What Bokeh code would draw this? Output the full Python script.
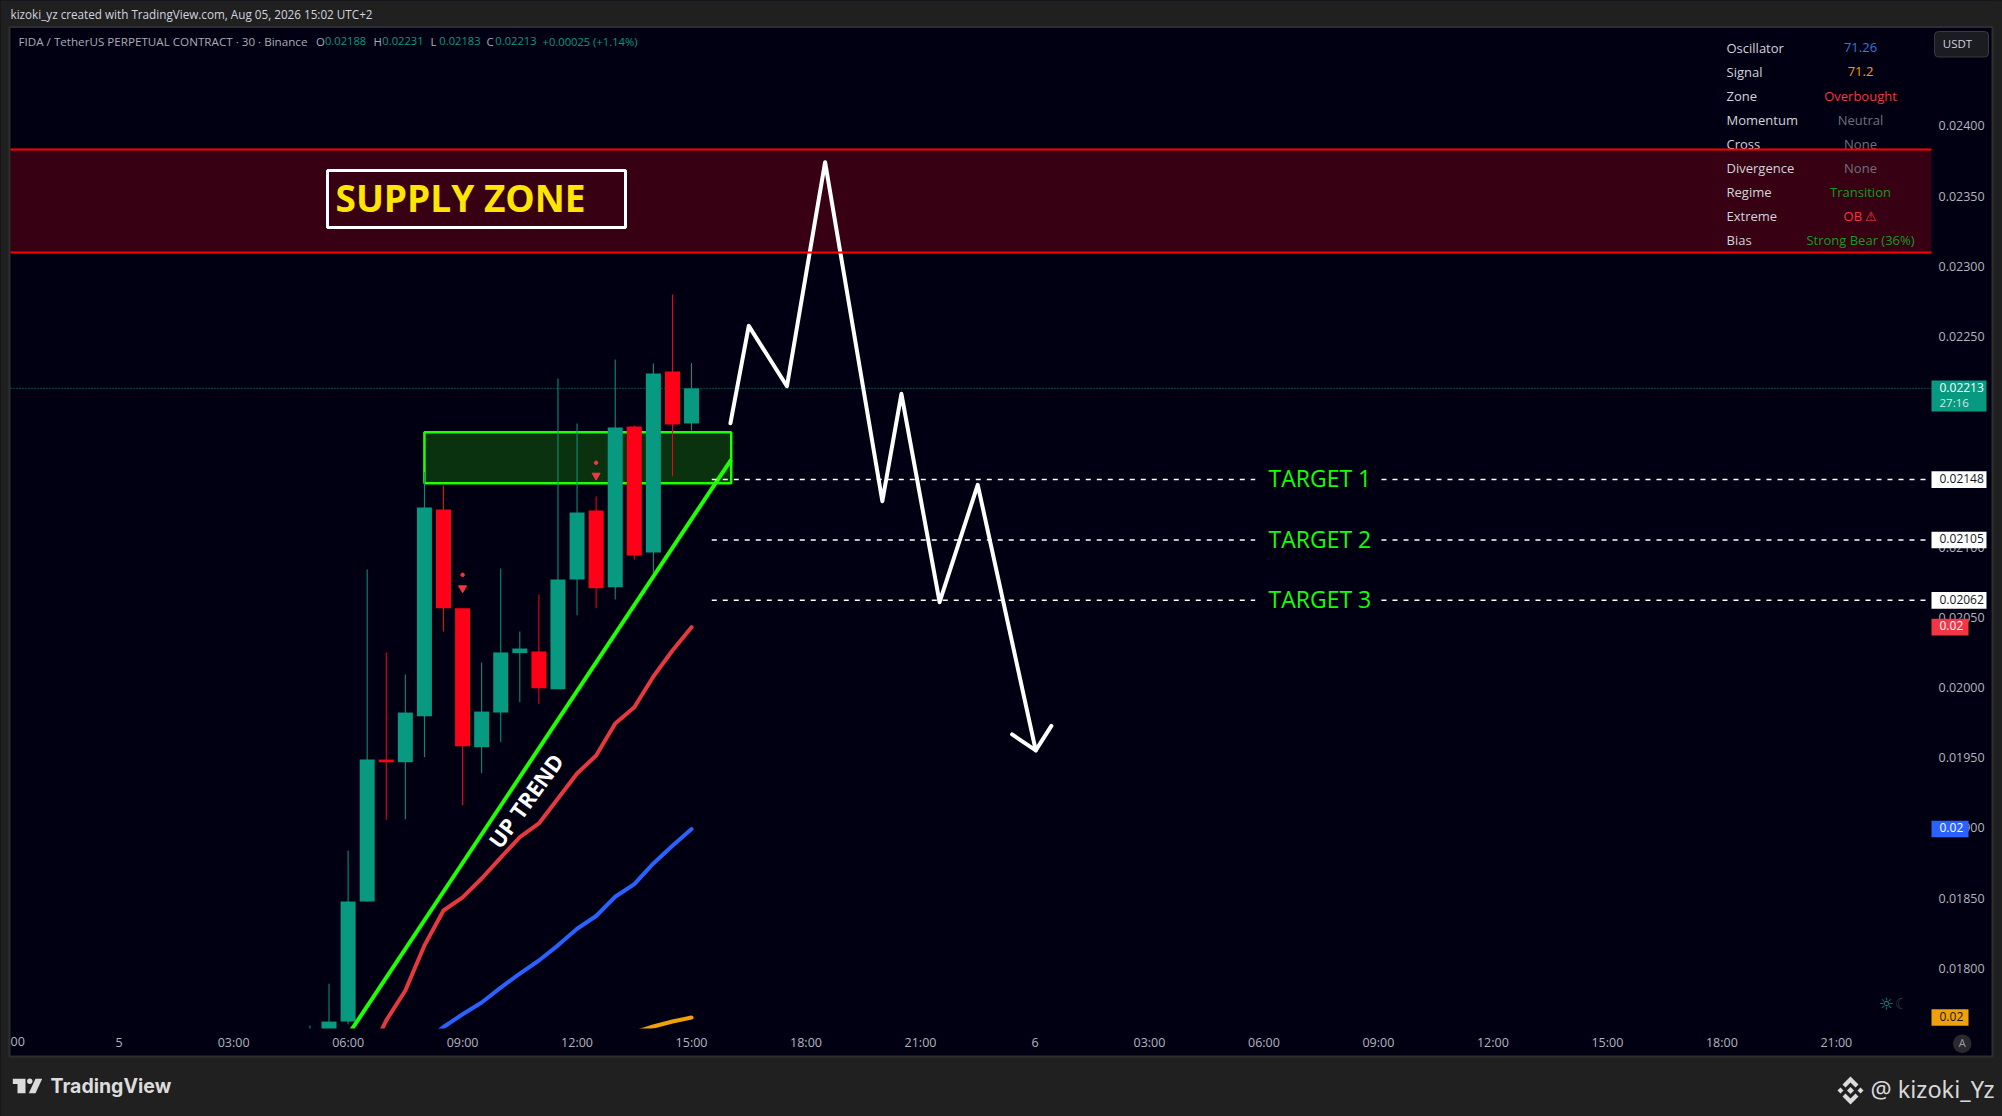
from bokeh.plotting import figure
from bokeh.embed import file_html
from bokeh.resources import INLINE
from bokeh.models import (BoxAnnotation, ColumnDataSource, FixedTicker, Label,
                          NumeralTickFormatter, PolyAnnotation)

# ---------- data ----------
hours = [5, 5.5, 6, 6.5, 7, 7.5, 8, 8.5, 9, 9.5, 10, 10.5, 11, 11.5, 12, 12.5, 13, 13.5, 14, 14.5, 15]
opens = [.01750, .01750, .01762, .018475, .019486, .019467, .019795, .021267, .020564, .019574, .019821,
         .020244, .020256, .019987, .020769, .02126, .020714, .021858, .020961, .02225, .02188]
highs = [.017592, .01789, .018838, .02084, .020249, .020092, .021533, .021438, .020564, .020177, .020847,
         .020398, .020662, .0222, .02188, .02136, .022335, .021865, .022307, .022798, .02231]
lows = [.01740, .01740, .01760, .018475, .019057, .019061, .019503, .020398, .019161, .019389, .01961,
        .019895, .01988, .019987, .020514, .020564, .020626, .020911, .020818, .021504, .02183]
closes = [.01755, .01762, .018475, .019486, .019467, .019821, .021281, .020564, .019581, .019828, .020249,
          .020277, .019994, .020769, .021246, .020707, .021851, .02094, .022236, .021873, .02213]

ma_hours_red = [6.5, 7, 7.5, 8, 8.5, 9, 9.5, 10, 10.5, 11, 11.5, 12, 12.5, 13, 13.5, 14, 14.5, 15]
ma_red = [.017343, .017628, .017841, .018162, .018411, .018504, .018639, .018788, .018933, .019031,
          .019209, .019387, .019515, .019743, .019859, .020078, .020263, .020429]
ma_hours_blue = [8, 8.5, 9, 9.5, 10, 10.5, 11, 11.5, 12, 12.5, 13, 13.5, 14, 14.5, 15]
ma_blue = [.017481, .017581, .017672, .017756, .017862, .017962, .018055, .018163, .018281, .018372,
           .018509, .018599, .018746, .018872, .018991]
ma_hours_orange = [13.5, 14, 14.5, 15]
ma_orange = [.017542, .017585, .01762, .017649]

signal_hours = [9, 12.5]
signal_dots = [.020802, .0216]
signal_tris = [.020707, .021509]

trend_h = [6.0, 16.04]
trend_p = [.017525, .021623]
box_h = [8.0, 16.04]
box_p = [.021454, .021818]
zone_p = [.023098, .023831]

path_h = [16.02, 16.5, 17.5, 18.5, 20, 20.5, 21.5, 22.5, 24.02]
path_p = [.021882, .022575, .022145, .023741, .021326, .022091, .020607, .021443, .019551]
arrow_h = [23.4, 24.02, 24.43]
arrow_p = [.019665, .019551, .019726]

current_price = .02213
target_names = ["TARGET 1", "TARGET 2", "TARGET 3"]
target_prices = [.02148, .02105, .02062]
target_tags = ["0.02148", "0.02105", "0.02062"]

price_ticks = [.018, .0185, .019, .0195, .020, .0205, .021, .0215, .022, .0225, .023, .0235, .024]
time_ticks = list(range(0, 48, 3))
time_labels = ["5", "03:00", "06:00", "09:00", "12:00", "15:00", "18:00", "21:00",
               "6", "03:00", "06:00", "09:00", "12:00", "15:00", "18:00", "21:00"]

header_text = "kizoki_yz created with TradingView.com, Aug 05, 2026 15:02 UTC+2"
symbol_text = "FIDA / TetherUS PERPETUAL CONTRACT \u00b7 30 \u00b7 Binance"
ohlc_names = ["O", "H", "L", "C"]
ohlc_values = ["0.02188", "0.02231", "0.02183", "0.02213"]
change_text = "+0.00025 (+1.14%)"

table_names = ["Oscillator", "Signal", "Zone", "Momentum", "Cross", "Divergence", "Regime", "Extreme", "Bias"]
table_values = ["71.26", "71.2", "Overbought", "Neutral", "None", "None", "Transition", "OB \u26a0", "Strong Bear (36%)"]
table_colors = ["#2a7de1", "#ff9800", "#f23645", "#6f717a", "#6f717a", "#6f717a", "#169b26", "#f23645", "#169b26"]

# ---------- layout constants (reference page pixels) ----------
BG = "#010012"
CHROME = "#202020"
GREEN = "#089981"
CANDLE_RED = "#ff0019"
AXIS_TXT = "#b2b5be"
FONT = "Open Sans"
W, H = 2002, 1116
FL, FR, FT, FB = 10, 1931, 27, 1028      # price pane
OL, OR, OB = 9, 1992, 1056               # chart outline
PX_PER_PRICE = 140400.0
PX_PER_HOUR = 38.16
H0, P0 = 6.0, .024
X_AT_H0, Y_AT_P0 = 347.6, 125.3
TEXT_DY = -1.2


def hx(x):
    return H0 + (x - X_AT_H0) / PX_PER_HOUR


def py(y):
    return P0 - (y - Y_AT_P0) / PX_PER_PRICE


p = figure(width=W, height=H, x_range=(hx(0), hx(W)), y_range=(py(H), py(0)),
           output_backend="svg", toolbar_location=None, y_axis_location="right",
           min_border=0, background_fill_color=BG, border_fill_color=CHROME, outline_line_color=None)
p.grid.visible = False

for ax in (p.xaxis[0], p.yaxis[0]):
    ax.axis_line_color = None
    ax.major_tick_line_color = None
    ax.minor_tick_line_color = None
    ax.major_tick_out = 0
    ax.major_tick_in = 0
    ax.minor_tick_out = 0
    ax.minor_tick_in = 0
    ax.major_label_text_color = AXIS_TXT
    ax.major_label_text_font = FONT
    ax.major_label_text_font_size = "12.5px"
p.yaxis[0].ticker = FixedTicker(ticks=price_ticks)
p.yaxis[0].formatter = NumeralTickFormatter(format="0.00000")
p.yaxis[0].major_label_standoff = 7
p.yaxis[0].fixed_location = hx(FR)
p.xaxis[0].ticker = FixedTicker(ticks=time_ticks)
p.xaxis[0].major_label_overrides = {t: s for t, s in zip(time_ticks, time_labels)}
p.xaxis[0].major_label_standoff = 5
p.xaxis[0].fixed_location = py(FB)


def sy(y):
    return H - y


def box(x0, x1, y0, y1, fill=None, line=None, lw=1, radius=0, level="annotation"):
    p.add_layout(BoxAnnotation(left=x0, right=x1, top=sy(y0), bottom=sy(y1),
                               left_units="screen", right_units="screen", top_units="screen", bottom_units="screen",
                               fill_color=fill, fill_alpha=1 if fill else 0,
                               line_color=line, line_alpha=1 if line else 0, line_width=lw,
                               border_radius=radius, level=level))


def label(text, x, y, size, color, align="left", bold=False, font=FONT):
    p.add_layout(Label(text=text, x=x, y=sy(y + TEXT_DY), x_units="screen", y_units="screen",
                       text_font=font, text_font_size=f"{size}px", text_color=color,
                       text_align=align, text_baseline="middle",
                       text_font_style="bold" if bold else "normal"))


def tag(price, x1, fill, text, txt_color):
    half = 8.3 / PX_PER_PRICE
    p.add_layout(BoxAnnotation(left=FR, right=x1, top=price + half, bottom=price - half,
                               left_units="screen", right_units="screen",
                               fill_color=fill, fill_alpha=1, line_alpha=0))
    p.add_layout(Label(text=text, x=1939, y=price - TEXT_DY / PX_PER_PRICE, x_units="screen", y_units="data",
                       text_font=FONT, text_font_size="12px", text_color=txt_color,
                       text_baseline="middle"))


# zones
p.quad(left=hx(FL), right=hx(FR), bottom=zone_p[0], top=zone_p[1], fill_color="#380113", line_color=None)
p.quad(left=box_h[0], right=box_h[1], bottom=box_p[0], top=box_p[1],
       fill_color="#0a320e", line_color="#1fff00", line_width=2.5)

# current price line
p.line([hx(FL), hx(FR)], [current_price, current_price], line_color=GREEN, line_width=1, line_dash="1 2")

# candles
src = ColumnDataSource(dict(
    x=hours, o=opens, h=highs, l=lows, c=closes,
    top=[max(a, b) for a, b in zip(opens, closes)],
    bot=[min(a, b) for a, b in zip(opens, closes)],
    col=[GREEN if c >= a else CANDLE_RED for a, c in zip(opens, closes)]))
p.segment("x", "l", "x", "h", source=src, color="col", line_width=1)
p.vbar("x", width=15 / PX_PER_HOUR, top="top", bottom="bot", source=src, fill_color="col", line_color=None)

# moving averages
p.line(ma_hours_red, ma_red, line_color="#e5393f", line_width=4, line_cap="round")
p.line(ma_hours_blue, ma_blue, line_color="#2962ff", line_width=4, line_cap="round")
p.line(ma_hours_orange, ma_orange, line_color="#f0a00a", line_width=4, line_cap="round")

# signals
p.scatter(signal_hours, signal_dots, marker="circle", size=3.5, color="#f23645")
p.scatter(signal_hours, signal_tris, marker="inverted_triangle", size=8, color="#f23645")

# trend line
p.line(trend_h, trend_p, line_color="#1fff00", line_width=4)
p.add_layout(Label(text="UP TREND", x=10.65, y=.019195, text_font=FONT, text_font_size="22px",
                   text_font_style="bold", text_color="white", text_align="center",
                   text_baseline="middle", angle=54, angle_units="deg"))

# target lines
seg_starts = [15.53, 33.08]
seg_ends = [29.77, hx(FR)]
for name, tp in zip(target_names, target_prices):
    for a, b in zip(seg_starts, seg_ends):
        p.line([a, b], [tp, tp], line_color="white", line_width=1.5, line_dash="5 6")
    p.add_layout(Label(text=name, x=30.12, y=tp - TEXT_DY / PX_PER_PRICE, text_font=FONT, text_font_size="23px",
                       text_color="#13ff00", text_baseline="middle"))

# forecast path
p.line(path_h, path_p, line_color="white", line_width=4, line_join="round", line_cap="round")
p.line(arrow_h, arrow_p, line_color="white", line_width=4, line_join="round", line_cap="round")

# masks: time-scale strip, price-scale strip, surrounding chrome
p.quad(left=hx(OL), right=hx(OR), top=py(FB), bottom=py(OB), fill_color=BG, line_color=None)
p.quad(left=hx(FR), right=hx(OR), top=py(FT), bottom=py(FB), fill_color=BG, line_color=None)
p.quad(left=hx(0), right=hx(W), top=py(0), bottom=py(FT), fill_color=CHROME, line_color=None)
p.quad(left=hx(0), right=hx(W), top=py(OB), bottom=py(H), fill_color=CHROME, line_color=None)
p.quad(left=hx(0), right=hx(OL), top=py(0), bottom=py(H), fill_color=CHROME, line_color=None)
p.quad(left=hx(OR), right=hx(W), top=py(0), bottom=py(H), fill_color=CHROME, line_color=None)
box(OL, OR, 26.5, OB, line="#2e2e2e", lw=2)

# supply zone label
box(327, 625, 170, 227, line="white", lw=3)
label("SUPPLY ZONE", 335, 198, 37, "#ffe600", bold=True)

# header and legend
label(header_text, 10, 15, 11.7, "#d1d4dc")
label(symbol_text, 18, 42, 11.65, "#a9acb5")
for nm, val, x in zip(ohlc_names, ohlc_values, [315.6, 373, 430, 486]):
    label(nm, x, 42, 11.4, "#a9acb5")
    label(val, x + 8.8, 42, 11.2, GREEN)
label(change_text, 542, 42, 11.2, GREEN)

# status table
rows_y = [48.3, 72.3, 96.3, 120.3, 144.3, 168.3, 192.3, 216.3, 240.3]
for nm, val, col, y in zip(table_names, table_values, table_colors, rows_y):
    label(nm, 1726, y, 13, "#d1d4dc")
    label(val, 1860, y, 13, col, align="center")

# zone edges run over the table text
for z in zone_p:
    p.add_layout(BoxAnnotation(left=FL, right=FR, top=z + 1 / PX_PER_PRICE, bottom=z - 1 / PX_PER_PRICE,
                               left_units="screen", right_units="screen",
                               fill_color="#ff0000", fill_alpha=1, line_alpha=0))

# USDT button
box(1934, 1988, 31, 56.5, fill="#1b1b22", line="#3a3a42", lw=1, radius=4)
label("USDT", 1957, 44.5, 11.5, "#d1d4dc", align="center")

# left clipped time label
label("00", 10, 1041.7, 12.5, AXIS_TXT)

# price tags
tag(target_prices[0], 1986, "white", target_tags[0], "#131722")
tag(target_prices[1], 1986, "white", target_tags[1], "#131722")
tag(target_prices[2], 1986, "white", target_tags[2], "#131722")
tag(ma_red[-1], 1968, "#f23645", "0.02", "white")
tag(ma_blue[-1], 1968, "#2962ff", "0.02", "white")
tag(ma_orange[-1], 1968, "#f0a00a", "0.02", "#131722")
box(FR, 1986, 380, 411, fill=GREEN)
label("0.02213", 1939, 388.3, 12, "white")
label("27:16", 1939, 402.7, 11.5, "#cfe9e4")

# sun / moon, auto button
label("\u263c", 1886, 1005, 17, "#089981", align="center", font="DejaVu Sans")
label("\u263e", 1901, 1005, 15, "#3a3f44", align="center", font="DejaVu Sans")
box(1952.5, 1971, 1034, 1052.5, fill="#2a2a2e", radius=9)
label("A", 1961.7, 1043, 11, "#9a9ca3", align="center")


# footer logo marks
def poly(xs, ys, color):
    p.add_layout(PolyAnnotation(xs=list(xs), ys=[sy(v) for v in ys],
                                xs_units="screen", ys_units="screen",
                                fill_color=color, fill_alpha=1, line_alpha=0))


LOGO = "#dcdcdc"
poly([12.3, 25, 25, 17, 17, 12.3], [1078.3, 1078.3, 1092.7, 1092.7, 1083.5, 1083.5], LOGO)
poly([35, 41.7, 35, 28.3], [1078.3, 1078.3, 1092.7, 1092.7], LOGO)
box(26.6, 32, 1078, 1083.4, fill=LOGO, radius=3)
label("TradingView", 50, 1086.5, 19.5, LOGO, bold=True, font="Inter")

cx, cy = 1850, 1090
for dx, dy, r in [(0, 0, 3.5), (-10, 0, 3), (10, 0, 3)]:
    poly([cx + dx, cx + dx + r, cx + dx, cx + dx - r], [cy + dy - r, cy + dy, cy + dy + r, cy + dy], LOGO)
for s in (-1, 1):
    poly([cx, cx + 8, cx + 5, cx, cx - 5, cx - 8],
         [cy + s * 14, cy + s * 6, cy + s * 3, cy + s * 8, cy + s * 3, cy + s * 6], LOGO)
label("@ kizoki_Yz", 1870, 1090, 23.5, "#d8d8d8", font="Noto Sans")

template = ("{% block postamble %}<style>html,body{margin:0;padding:0;overflow:hidden;"
            "background:#202020}</style>{% endblock %}")
open("out.html", "w").write(file_html(p, INLINE, template=template))
